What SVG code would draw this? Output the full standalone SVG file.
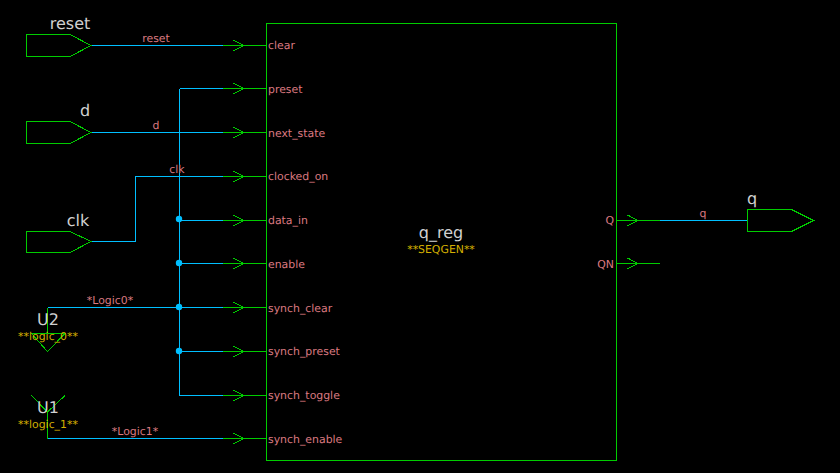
<svg xmlns="http://www.w3.org/2000/svg" width="840" height="473" viewBox="0 0 840 473">
<style>
text{font-family:"DejaVu Sans",sans-serif;text-rendering:geometricPrecision}
.g{fill:none;stroke:#00cc00;stroke-width:1;shape-rendering:crispEdges}
.w{fill:none;stroke:#00bfff;stroke-width:1;shape-rendering:crispEdges}
.d{fill:#00bfff}
.l{font-size:10.900px;fill:#dc7a80}
.n{font-size:10.900px;fill:#dc7a80;text-anchor:middle}
.t{font-size:16px;fill:#d0d0d0;text-anchor:middle}
.y{font-size:10.900px;fill:#d4b000;text-anchor:middle}
</style>
<defs>
<path id="a" class="g" d="M233 -5.500L244 0L233 5.500M223 0H266"/>
</defs>
<rect width="840" height="473" fill="#000"/>
<g id="connectors">
<path class="w" d="M91 45.500H223"/>
<path class="w" d="M91 132.500H223"/>
<path class="w" d="M91 241.500H135.500V176.500H223"/>
<path class="w" d="M179.500 88.500H223M179.500 88.500V395.500H223"/>
<path class="w" d="M179.500 220.500H223M179.500 263.500H223M179.500 351.500H223"/>
<path class="w" d="M47.500 307.500H223"/>
<path class="w" d="M47.500 438.500H223"/>
<path class="w" d="M660 220.500H747"/>
<path class="g" d="M47.500 307.500V333"/>
<path class="g" d="M47.500 412V438.500"/>
<circle class="d" cx="179" cy="219" r="3.200"/>
<circle class="d" cx="179" cy="263" r="3.200"/>
<circle class="d" cx="179" cy="307" r="3.200"/>
<circle class="d" cx="179" cy="351" r="3.200"/>
<text class="n" x="156" y="42">reset</text>
<text class="n" x="156" y="129">d</text>
<text class="n" x="177" y="173">clk</text>
<text class="n" x="110" y="304">*Logic0*</text>
<text class="n" x="135" y="435">*Logic1*</text>
<text class="n" x="703" y="217">q</text>
</g>
<g id="reset">
<path class="g" d="M26.500 34.500H70L91 45.500L70 56.500H26.500Z"/>
<text class="t" x="70" y="29">reset</text>
</g>
<g id="d">
<path class="g" d="M26.500 121.500H70L91 132.500L70 143.500H26.500Z"/>
<text class="t" x="85" y="116">d</text>
</g>
<g id="clk">
<path class="g" d="M26.500 231.500H70L91 241.500L70 252.500H26.500Z"/>
<text class="t" x="78" y="226">clk</text>
</g>
<g id="U2">
<path class="g" d="M31.500 333.500H65L47.500 351.500Z"/>
<text class="t" x="48" y="325">U2</text>
<text class="y" x="48" y="340">**logic_0**</text>
</g>
<g id="U1">
<path class="g" d="M31.500 395.500L47.500 412L65 395.500"/>
<text class="t" x="48" y="413">U1</text>
<text class="y" x="48" y="428">**logic_1**</text>
</g>
<g id="q">
<path class="g" d="M747.500 209.500H791.500L813.500 220.500L791.500 231.500H747.500Z"/>
<text class="t" x="752" y="204">q</text>
</g>
<g id="q_reg">
<rect class="g" x="266.500" y="23.500" width="350" height="437"/>
<use href="#a" y="45.500"/>
<use href="#a" y="88.500"/>
<use href="#a" y="132.500"/>
<use href="#a" y="176.500"/>
<use href="#a" y="220.500"/>
<use href="#a" y="263.500"/>
<use href="#a" y="307.500"/>
<use href="#a" y="351.500"/>
<use href="#a" y="395.500"/>
<use href="#a" y="438.500"/>
<path class="g" d="M617 220.500H660M627.500 215L638 220.500L627.500 226"/>
<path class="g" d="M617 263.500H660M627.500 258L638 263.500L627.500 269"/>
<text class="l" x="268" y="49">clear</text>
<text class="l" x="268" y="93">preset</text>
<text class="l" x="268" y="137">next_state</text>
<text class="l" x="268" y="180">clocked_on</text>
<text class="l" x="268" y="224">data_in</text>
<text class="l" x="268" y="268">enable</text>
<text class="l" x="268" y="312">synch_clear</text>
<text class="l" x="268" y="355">synch_preset</text>
<text class="l" x="268" y="399">synch_toggle</text>
<text class="l" x="268" y="443">synch_enable</text>
<text class="l" x="614" y="224" text-anchor="end">Q</text>
<text class="l" x="614" y="268" text-anchor="end">QN</text>
<text class="t" x="441" y="238">q_reg</text>
<text class="y" x="441" y="253">**SEQGEN**</text>
</g>
</svg>
